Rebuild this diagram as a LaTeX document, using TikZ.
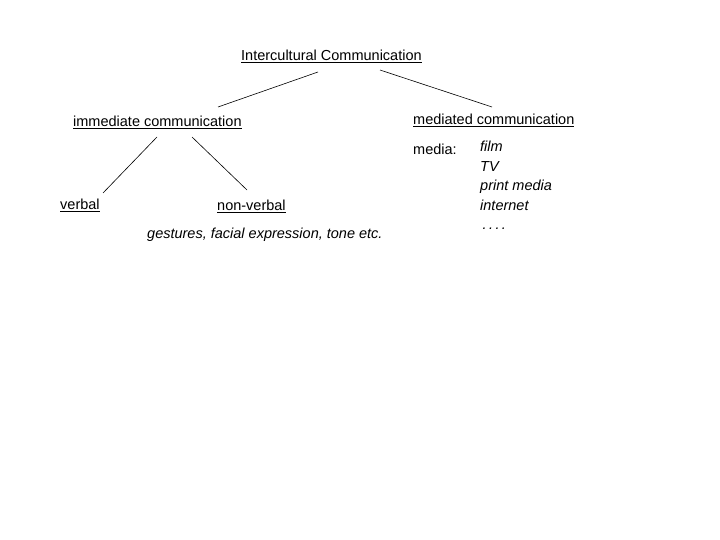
\documentclass[tikz,border=0pt]{standalone}
\usepackage{fontspec}
\setmainfont{Liberation Sans}
\begin{document}
\begin{tikzpicture}[x=1pt,y=-1pt,
  lbl/.style={inner sep=0pt,anchor=base west,font=\fontsize{14.5}{16}\selectfont},
  ln/.style={line width=0.6pt}]
\useasboundingbox (0,0) rectangle (720,540);
\node[lbl] (t) at (241,61) {\underline{Intercultural Communication}};
\node[lbl] (i) at (73,127) {\underline{immediate communication}};
\node[lbl] (m) at (413,125) {\underline{mediated communication}};
\node[lbl] (v) at (60,210) {\underline{verbal}};
\node[lbl] (n) at (217,211) {\underline{non-verbal}};
\node[lbl,font=\fontsize{14.5}{16}\selectfont\itshape] (g) at (147,239) {gestures, facial expression, tone etc.};
\node[lbl] (md) at (413,155) {media:};
\node[lbl,anchor=north west,align=left,font=\fontsize{14.5}{19.5}\selectfont\itshape] (l) at (480,141) {film\\TV\\print media\\internet\\\,.\,.\,.\,.};
\coordinate (a1) at (318,72); \coordinate (a2) at (218,107);
\coordinate (b1) at (380,70); \coordinate (b2) at (492,107);
\coordinate (c1) at (157,137); \coordinate (c2) at (103,193);
\coordinate (d1) at (192,137); \coordinate (d2) at (247,190);
\draw[ln] (a1) -- (a2); \draw[ln] (b1) -- (b2);
\draw[ln] (c1) -- (c2); \draw[ln] (d1) -- (d2);
\end{tikzpicture}
\end{document}
